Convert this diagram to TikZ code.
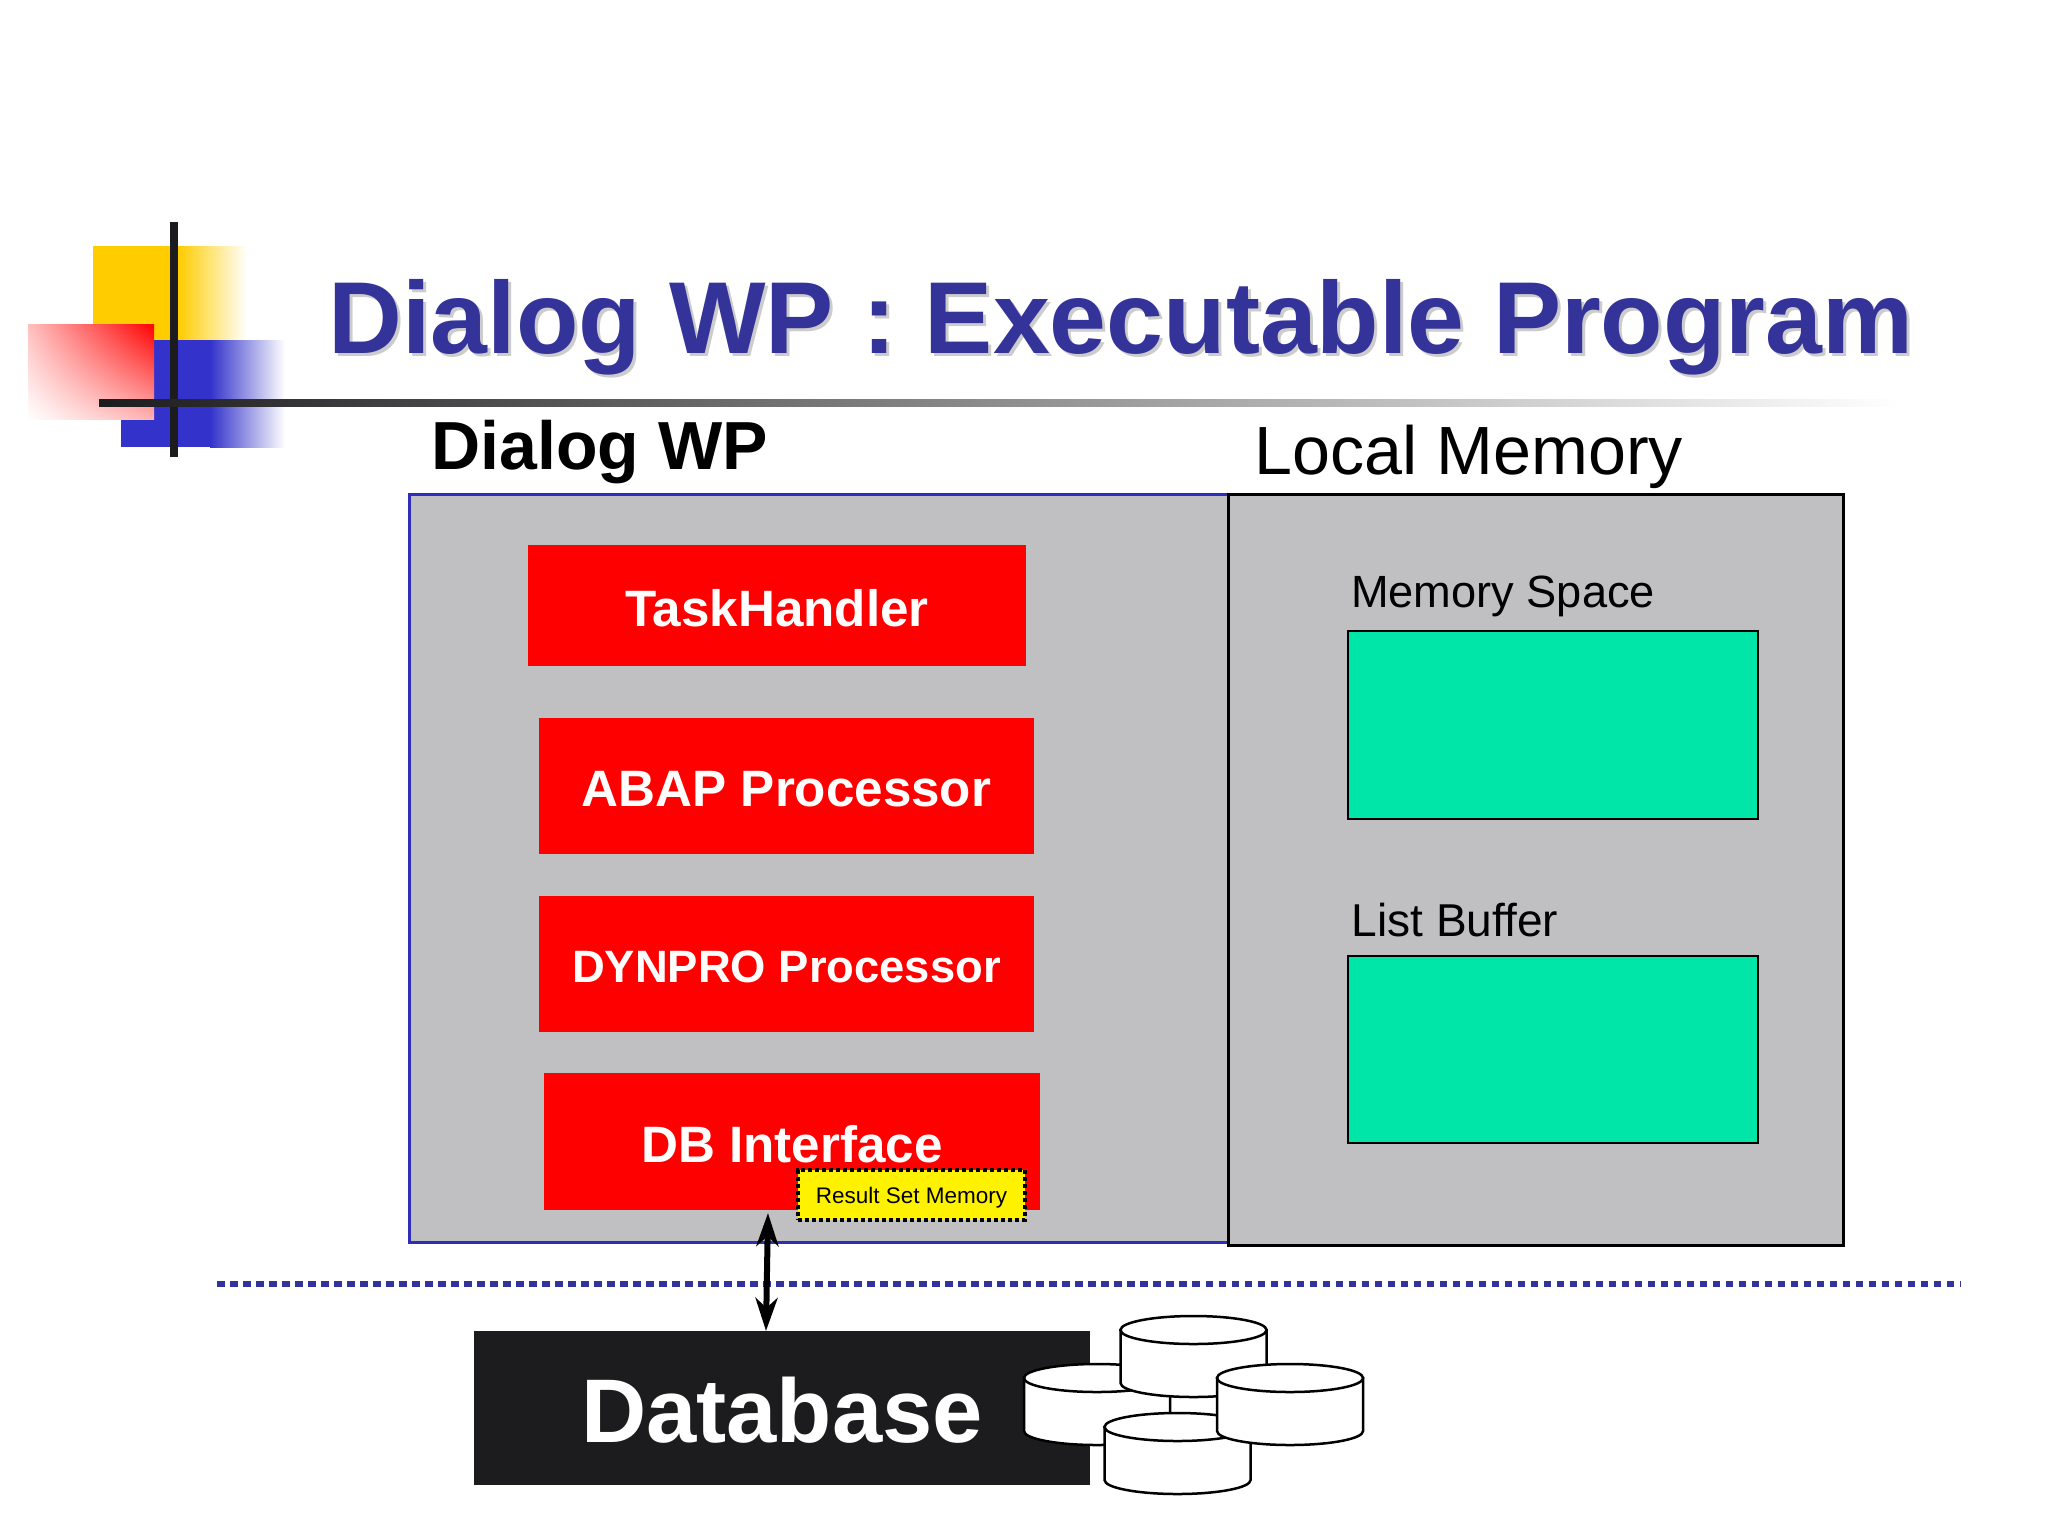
\documentclass[tikz,border=0pt]{standalone}
\usepackage{fontspec}
\setmainfont{Liberation Sans}
\usetikzlibrary{arrows.meta,shadings}
\definecolor{titleblue}{HTML}{333399}
\definecolor{logoblue}{HTML}{3333CC}
\definecolor{logoyellow}{HTML}{FFCC00}
\definecolor{panelgray}{HTML}{C0BFC1}
\definecolor{memgreen}{HTML}{00E5A8}
\definecolor{nearblack}{HTML}{1C1B1D}
\tikzset{
  redbox/.style={fill=red,text=white,inner sep=0pt,outer sep=0pt,text height=0.41cm,text depth=0pt,font=\fontsize{14.55}{17}\selectfont\bfseries},
  membox/.style={draw=black,line width=0.02cm,fill=memgreen,inner sep=0pt,outer sep=0pt,minimum width=4.1cm,minimum height=1.87cm},
  panel/.style={fill=panelgray,inner sep=0pt,outer sep=0pt},
  textlabel/.style={anchor=base,inner sep=0pt},
}
\begin{document}
\begin{tikzpicture}[x=0.01cm,y=-0.01cm]
\useasboundingbox (0,0) rectangle (2048,1536);
\fill[white] (0,0) rectangle (2048,1536);

\fill[logoyellow] (93,246) rectangle (179,340);
\shade[left color=logoyellow,right color=white] (178,246) rectangle (247,340);
\fill[logoblue] (121,340) rectangle (211,447);
\shade[left color=logoblue,right color=white] (210,340) rectangle (285,447);
\shade[upper right=red,upper left=red!25,lower right=red!30,lower left=white] (28,324) rectangle (154,419);
\fill[nearblack] (170,222) rectangle (178,457);
\shade[left color=nearblack,middle color=black!55,right color=white] (99,399) rectangle (1900,406);

\node[textlabel,text=black!20,font=\fontsize{29.07}{34}\selectfont\bfseries] (titleshadow) at (1124,356) {Dialog WP : Executable Program};
\node[textlabel,text=titleblue,font=\fontsize{29.07}{34}\selectfont\bfseries] (title) at (1121,353) {Dialog WP : Executable Program};
\node[textlabel,font=\fontsize{19.35}{23}\selectfont\bfseries] (dialoglabel) at (599.5,469) {Dialog WP};
\node[textlabel,font=\fontsize{19.4}{23}\selectfont] (locallabel) at (1469,474) {Local Memory};

\node[panel,draw=logoblue!90!black,line width=0.03cm,minimum width=8.2cm,minimum height=7.47cm] (dialogwp) at (819.5,868.5) {};
\node[panel,draw=black,line width=0.03cm,minimum width=6.14cm,minimum height=7.5cm] (localmem) at (1536,870) {};

\node[redbox,minimum width=4.97cm,minimum height=1.21cm] (taskhandler) at (777,605.5) {TaskHandler};
\node[redbox,minimum width=4.95cm,minimum height=1.36cm] (abap) at (786.5,786) {ABAP Processor};
\node[redbox,minimum width=4.95cm,minimum height=1.36cm,text height=0.37cm,font=\fontsize{12.9}{15}\selectfont\bfseries] (dynpro) at (786.5,964) {DYNPRO Processor};
\node[redbox,minimum width=4.95cm,minimum height=1.37cm] (dbinterface) at (792,1141.5) {DB Interface};
\node[draw=black,line width=0.035cm,dash pattern=on 0.04cm off 0.03cm,fill=yellow,inner sep=0pt,text height=0.17cm,text depth=0pt,minimum width=2.27cm,minimum height=0.5cm,font=\fontsize{6.4}{8}\selectfont] (resultset) at (911.5,1195) {Result Set Memory};

\node[textlabel,font=\fontsize{12.85}{15}\selectfont] (spacelabel) at (1503,607) {Memory Space};
\node[membox] (memspace) at (1553,725) {};
\node[textlabel,font=\fontsize{13.1}{15}\selectfont] (listlabel) at (1455,936) {List Buffer};
\node[membox] (listbuffer) at (1553,1049.5) {};

\coordinate (sepleft) at (217,1284);
\coordinate (sepright) at (1960,1284);
\draw[titleblue,line width=0.06cm,dash pattern=on 0.075cm off 0.055cm] (sepleft)--(sepright);

\node[fill=nearblack,text=white,inner sep=0pt,outer sep=0pt,minimum width=6.16cm,minimum height=1.54cm,text height=0.68cm,text depth=0pt,font=\fontsize{25.7}{30}\selectfont\bfseries] (database) at (782,1408) {Database};
\draw[line width=0.06cm,{Stealth[length=0.33cm,width=0.22cm,inset=0.1cm]}-{Stealth[length=0.33cm,width=0.22cm,inset=0.1cm]}] ([xshift=-0.24cm,yshift=-0.03cm]dbinterface.south)--([xshift=-0.16cm]database.north);

\foreach \cx/\cy in {1097/1378,1193.5/1330,1177.5/1427,1290/1378}{
  \draw[fill=white,line width=0.025cm] (\cx-73,\cy)--(\cx-73,\cy+53) arc[start angle=180,end angle=360,x radius=0.73cm,y radius=0.14cm]--(\cx+73,\cy)--cycle;
  \draw[fill=white,line width=0.025cm] (\cx,\cy) ellipse [x radius=0.73cm,y radius=0.14cm];
}
\end{tikzpicture}
\end{document}
